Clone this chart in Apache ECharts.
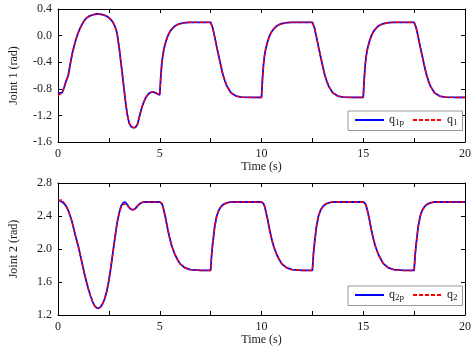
<!DOCTYPE html>
<html>
<head>
<meta charset="utf-8">
<script src="https://cdn.jsdelivr.net/npm/echarts@6/dist/echarts.min.js"></script>
<style>html,body{margin:0;padding:0;background:#fff}#c{width:474px;height:348px}</style>
</head>
<body>
<div id="c"></div>
<script>
// Shared time samples (s)
var time = [
 0.0,0.1,0.2,0.3,0.4,0.5,0.6,0.7,0.8,0.9,1.0,1.1,1.2,1.3,1.4,1.5,1.6,1.7,1.8,1.9,
 2.0,2.1,2.2,2.3,2.4,2.5,2.6,2.7,2.8,2.9,3.0,3.1,3.2,3.3,3.4,3.5,3.6,3.7,3.8,3.9,
 4.0,4.1,4.2,4.3,4.4,4.5,4.6,4.7,4.8,4.9,
 5.0,5.05,5.1,5.15,5.2,5.3,5.4,5.5,5.6,5.75,5.9,6.0,6.25,6.5,7.0,7.5,7.55,7.6,7.7,7.8,7.9,8.0,8.1,8.2,8.3,8.5,8.75,9.0,9.5,
 10.0,10.05,10.1,10.15,10.2,10.3,10.4,10.5,10.6,10.75,10.9,11.0,11.25,11.5,12.0,12.5,12.55,12.6,12.7,12.8,12.9,13.0,13.1,13.2,13.3,13.5,13.75,14.0,14.5,
 15.0,15.05,15.1,15.15,15.2,15.3,15.4,15.5,15.6,15.75,15.9,16.0,16.25,16.5,17.0,17.5,17.55,17.6,17.7,17.8,17.9,18.0,18.1,18.2,18.3,18.5,18.75,19.0,19.5,
 20.0
];
// Joint 1 (rad), measured q1p
var q1p = [
 -0.87,-0.86,-0.86,-0.78,-0.68,-0.60,-0.43,-0.27,-0.15,-0.04,0.05,0.12,0.18,0.23,0.265,0.285,0.30,0.31,0.32,0.325,
 0.325,0.32,0.315,0.305,0.29,0.27,0.24,0.20,0.14,0.04,-0.17,-0.42,-0.68,-0.95,-1.18,-1.32,-1.37,-1.385,-1.38,-1.34,
 -1.22,-1.10,-1.01,-0.94,-0.895,-0.86,-0.85,-0.85,-0.86,-0.88,
 -0.89,-0.62,-0.42,-0.30,-0.21,-0.09,0.0,0.06,0.10,0.145,0.17,0.18,0.195,0.20,0.20,0.20,0.18,0.12,-0.02,-0.17,-0.31,-0.45,-0.58,-0.68,-0.76,-0.86,-0.91,-0.925,-0.93,
 -0.93,-0.64,-0.43,-0.30,-0.21,-0.09,0.0,0.06,0.10,0.145,0.17,0.18,0.195,0.20,0.20,0.20,0.18,0.12,-0.02,-0.17,-0.31,-0.45,-0.58,-0.68,-0.76,-0.86,-0.91,-0.925,-0.93,
 -0.93,-0.64,-0.43,-0.30,-0.21,-0.09,0.0,0.06,0.10,0.145,0.17,0.18,0.195,0.20,0.20,0.20,0.18,0.12,-0.02,-0.17,-0.31,-0.45,-0.58,-0.68,-0.76,-0.86,-0.91,-0.925,-0.93,
 -0.93
];
// Joint 1 (rad), reference q1
var q1 = [
 -0.90,-0.88,-0.87,-0.79,-0.69,-0.61,-0.44,-0.28,-0.15,-0.04,0.05,0.12,0.18,0.23,0.265,0.285,0.30,0.31,0.32,0.325,
 0.325,0.32,0.315,0.305,0.29,0.27,0.24,0.20,0.14,0.04,-0.17,-0.42,-0.68,-0.95,-1.18,-1.32,-1.37,-1.385,-1.38,-1.34,
 -1.22,-1.10,-1.01,-0.94,-0.895,-0.86,-0.85,-0.85,-0.86,-0.88,
 -0.89,-0.62,-0.42,-0.30,-0.21,-0.09,0.0,0.06,0.10,0.145,0.17,0.18,0.195,0.20,0.20,0.20,0.18,0.12,-0.02,-0.17,-0.31,-0.45,-0.58,-0.68,-0.76,-0.86,-0.91,-0.925,-0.93,
 -0.93,-0.64,-0.43,-0.30,-0.21,-0.09,0.0,0.06,0.10,0.145,0.17,0.18,0.195,0.20,0.20,0.20,0.18,0.12,-0.02,-0.17,-0.31,-0.45,-0.58,-0.68,-0.76,-0.86,-0.91,-0.925,-0.93,
 -0.93,-0.64,-0.43,-0.30,-0.21,-0.09,0.0,0.06,0.10,0.145,0.17,0.18,0.195,0.20,0.20,0.20,0.18,0.12,-0.02,-0.17,-0.31,-0.45,-0.58,-0.68,-0.76,-0.86,-0.91,-0.925,-0.93,
 -0.93
];
// Joint 2 (rad), measured q2p
var q2p = [
 2.59,2.585,2.57,2.55,2.52,2.47,2.40,2.32,2.22,2.12,2.03,1.92,1.81,1.70,1.60,1.51,1.43,1.36,1.31,1.285,
 1.28,1.30,1.34,1.40,1.49,1.62,1.78,1.96,2.14,2.31,2.43,2.52,2.56,2.57,2.54,2.50,2.48,2.475,2.49,2.52,
 2.545,2.56,2.57,2.57,2.57,2.57,2.57,2.57,2.57,2.57,
 2.57,2.565,2.55,2.52,2.47,2.36,2.23,2.12,2.03,1.93,1.86,1.82,1.77,1.75,1.74,1.74,1.93,2.06,2.27,2.40,2.47,2.51,2.535,2.55,2.56,2.57,2.57,2.57,2.57,
 2.57,2.565,2.55,2.52,2.47,2.36,2.23,2.12,2.03,1.93,1.86,1.82,1.77,1.75,1.74,1.74,1.93,2.06,2.27,2.40,2.47,2.51,2.535,2.55,2.56,2.57,2.57,2.57,2.57,
 2.57,2.565,2.55,2.52,2.47,2.36,2.23,2.12,2.03,1.93,1.86,1.82,1.77,1.75,1.74,1.74,1.93,2.06,2.27,2.40,2.47,2.51,2.535,2.55,2.56,2.57,2.57,2.57,2.57,
 2.57
];
// Joint 2 (rad), reference q2
var q2 = [
 2.59,2.59,2.60,2.56,2.52,2.47,2.40,2.32,2.22,2.12,2.03,1.92,1.81,1.70,1.60,1.51,1.43,1.36,1.31,1.285,
 1.28,1.30,1.34,1.40,1.49,1.62,1.78,1.96,2.14,2.31,2.43,2.51,2.54,2.545,2.53,2.50,2.48,2.475,2.49,2.52,
 2.545,2.56,2.57,2.57,2.57,2.57,2.57,2.57,2.57,2.57,
 2.57,2.565,2.55,2.52,2.47,2.36,2.23,2.12,2.03,1.93,1.86,1.82,1.77,1.75,1.74,1.74,1.93,2.06,2.27,2.40,2.47,2.51,2.535,2.55,2.56,2.57,2.57,2.57,2.57,
 2.57,2.565,2.55,2.52,2.47,2.36,2.23,2.12,2.03,1.93,1.86,1.82,1.77,1.75,1.74,1.74,1.93,2.06,2.27,2.40,2.47,2.51,2.535,2.55,2.56,2.57,2.57,2.57,2.57,
 2.57,2.565,2.55,2.52,2.47,2.36,2.23,2.12,2.03,1.93,1.86,1.82,1.77,1.75,1.74,1.74,1.93,2.06,2.27,2.40,2.47,2.51,2.535,2.55,2.56,2.57,2.57,2.57,2.57,
 2.57
];
var xTicks = {min: 0, max: 20, interval: 2.5, labelStep: 5};
var y1Ticks = {min: -1.6, max: 0.4, interval: 0.4};
var y2Ticks = {min: 1.2, max: 2.8, interval: 0.4};
var xName = 'Time (s)';
var y1Name = 'Joint 1 (rad)';
var y2Name = 'Joint 2 (rad)';

function pairs(t, v) { return t.map(function (x, i) { return [x, v[i]]; }); }

var FONT = "'Liberation Serif','Times New Roman',serif";
var TXT = '#1a1a1a';

function xAxes(gi) {
  return [{
    gridIndex: gi, type: 'value', position: 'bottom', min: xTicks.min, max: xTicks.max, interval: xTicks.interval,
    name: xName, nameLocation: 'middle', nameGap: 17,
    nameTextStyle: {fontFamily: FONT, fontSize: 12, color: TXT},
    axisLine: {show: true, onZero: false, lineStyle: {color: '#000', width: 1}},
    axisTick: {show: true, inside: true, length: 4, lineStyle: {color: '#000'}},
    axisLabel: {margin: 6, fontFamily: FONT, fontSize: 12, color: TXT,
      formatter: function (v) { return Math.abs(v % xTicks.labelStep) < 1e-6 ? String(v) : ''; }},
    splitLine: {show: false}
  }, {
    gridIndex: gi, type: 'value', position: 'top', min: xTicks.min, max: xTicks.max, interval: xTicks.interval,
    axisLine: {show: true, onZero: false, lineStyle: {color: '#000', width: 1}},
    axisTick: {show: true, inside: true, length: 4, lineStyle: {color: '#000'}},
    axisLabel: {show: false}, splitLine: {show: false}
  }];
}
function yAxes(gi, tk, name) {
  return [{
    gridIndex: gi, type: 'value', position: 'left', min: tk.min, max: tk.max, interval: tk.interval,
    name: name, nameLocation: 'middle', nameGap: 38,
    nameTextStyle: {fontFamily: FONT, fontSize: 12, color: TXT},
    axisLine: {show: true, onZero: false, lineStyle: {color: '#000', width: 1}},
    axisTick: {show: true, inside: true, length: 4, lineStyle: {color: '#000'}},
    axisLabel: {margin: 6, fontFamily: FONT, fontSize: 12, color: TXT,
      formatter: function (v) { return v.toFixed(1); }},
    splitLine: {show: false}
  }, {
    gridIndex: gi, type: 'value', position: 'right', min: tk.min, max: tk.max, interval: tk.interval,
    axisLine: {show: true, onZero: false, lineStyle: {color: '#000', width: 1}},
    axisTick: {show: true, inside: true, length: 4, lineStyle: {color: '#000'}},
    axisLabel: {show: false}, splitLine: {show: false}
  }];
}

function legend(top, names) {
  return {
    left: 348, top: top, orient: 'horizontal',
    data: names,
    itemWidth: 29, itemHeight: 10, itemGap: 8,
    padding: [3, 5, 3, 6],
    borderColor: '#999', borderWidth: 1, backgroundColor: '#fff',
    itemStyle: {color: 'rgba(0,0,0,0)', borderColor: 'rgba(0,0,0,0)', borderWidth: 0},
    textStyle: {fontFamily: FONT, fontSize: 12, color: TXT,
      rich: {
        n: {fontFamily: FONT, fontSize: 12, color: TXT},
        s: {fontFamily: FONT, fontSize: 9, color: TXT, padding: [6, 0, 0, 0]}
      }},
    formatter: function (n) { return '{n|q}{s|' + n.slice(1) + '}'; }
  };
}

function line(name, xi, yi, data, color, dashed, w) {
  return {
    name: name, type: 'line', xAxisIndex: xi, yAxisIndex: yi, data: data,
    symbol: 'none', showSymbol: false, smooth: false, animation: false,
    lineStyle: {color: color, width: w, type: dashed ? [4, 2] : 'solid'},
    itemStyle: {color: color}
  };
}

var chart = echarts.init(document.getElementById('c'), null, {renderer: 'canvas'});
chart.setOption({
  backgroundColor: '#fff',
  animation: false,
  grid: [
    {left: 57, right: 8, top: 9, height: 133, show: false},
    {left: 57, right: 8, top: 183, height: 132, show: false}
  ],
  xAxis: xAxes(0).concat(xAxes(1)),
  yAxis: yAxes(0, y1Ticks, y1Name).concat(yAxes(1, y2Ticks, y2Name)),
  legend: [legend(111, ['q1p', 'q1']), legend(286, ['q2p', 'q2'])],
  series: [
    line('q1p', 0, 0, pairs(time, q1p), '#0000ff', false, 1.8),
    line('q1', 0, 0, pairs(time, q1), '#ff0000', true, 1.4),
    line('q2p', 2, 2, pairs(time, q2p), '#0000ff', false, 1.8),
    line('q2', 2, 2, pairs(time, q2), '#ff0000', true, 1.4)
  ]
});
</script>
</body>
</html>
